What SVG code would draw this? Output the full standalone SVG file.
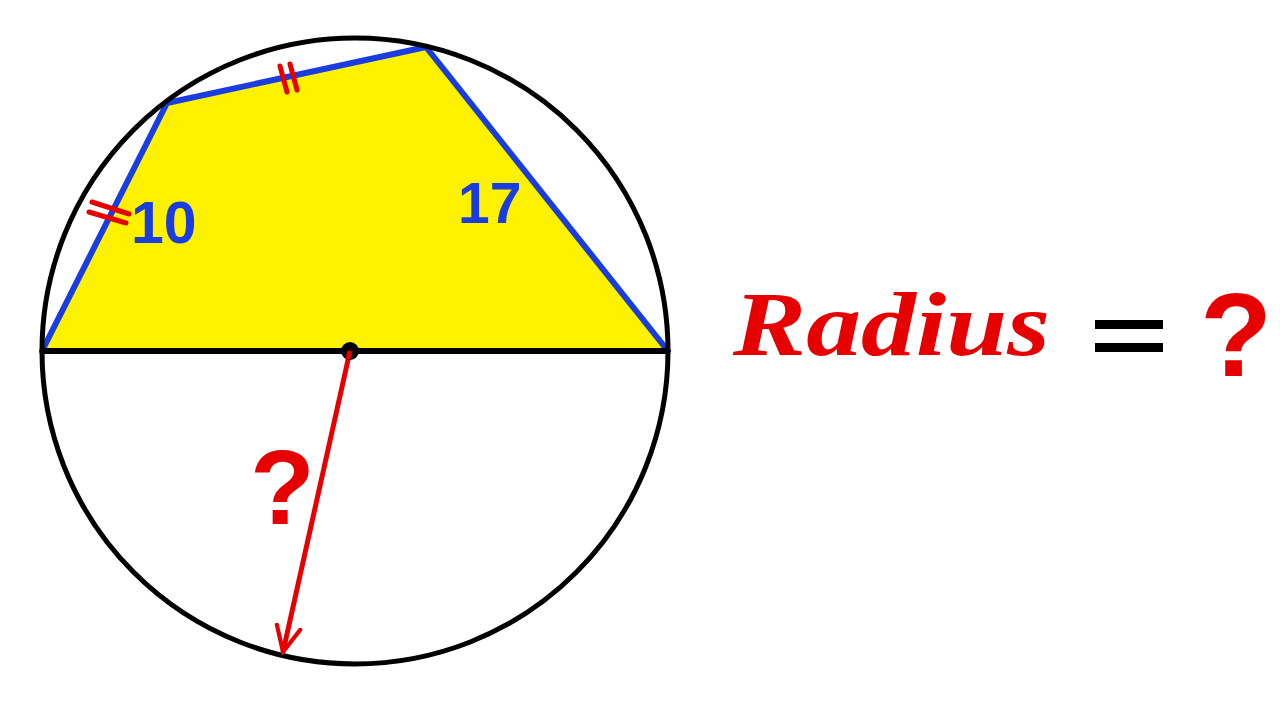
<svg xmlns="http://www.w3.org/2000/svg" width="1280" height="720" viewBox="0 0 1280 720">
<defs>
<style>
.blue{font-family:"Liberation Sans",Arial,sans-serif;font-weight:bold;fill:#1a3de0}
.tick{stroke:#e60000;stroke-width:5;stroke-linecap:round}
</style>
<marker id="ah" viewBox="0 0 10 10" refX="9" refY="5" markerWidth="6" markerHeight="6" orient="auto" markerUnits="strokeWidth">
<path d="M0.5,1 L9,5 L0.5,9" fill="none" stroke="#e60000" stroke-width="1.4" stroke-linejoin="miter" stroke-linecap="round"/>
</marker>
</defs>
<rect width="1280" height="720" fill="#fff"/>
<g id="quad">
<polygon points="42,351 167,103 426,47 668,351" fill="#fff200" stroke="#1a3de0" stroke-width="6" stroke-linejoin="round"/>
</g>
<g id="circle">
<circle cx="355" cy="351" r="313" fill="none" stroke="#000" stroke-width="5"/>
</g>
<g id="diameter">
<line x1="42" y1="351" x2="668" y2="351" stroke="#000" stroke-width="6"/>
</g>
<g id="connectors">
<line x1="350" y1="351" x2="283" y2="652" stroke="#e60000" stroke-width="5" marker-end="url(#ah)"/>
</g>
<g id="center">
<circle cx="350" cy="351" r="9" fill="#000"/>
<line x1="350" y1="351" x2="348" y2="359" stroke="#e60000" stroke-width="5"/>
</g>
<g id="ticks">
<line class="tick" x1="89" y1="212" x2="126" y2="223"/>
<line class="tick" x1="92" y1="202" x2="129" y2="214"/>
<line class="tick" x1="280" y1="66" x2="287" y2="92"/>
<line class="tick" x1="290" y1="64" x2="297" y2="90"/>
</g>
<g id="labels">
<text class="blue" x="131" y="243" font-size="59">10</text>
<text class="blue" x="458" y="223" font-size="57">17</text>
<text x="250" y="524" font-family="Liberation Sans,Arial,sans-serif" font-weight="bold" font-size="106" fill="#e60000">?</text>
</g>
<g id="equation">
<text x="733" y="355" font-family="Liberation Serif,Times New Roman,serif" font-style="italic" font-weight="bold" font-size="90" fill="#e60000" textLength="317" lengthAdjust="spacingAndGlyphs">Radius</text>
<rect x="1095" y="320" width="68" height="9" fill="#000"/>
<rect x="1095" y="343" width="68" height="9" fill="#000"/>
<text x="1200" y="376" font-family="Liberation Sans,Arial,sans-serif" font-weight="bold" font-size="118" fill="#e60000">?</text>
</g>
</svg>
